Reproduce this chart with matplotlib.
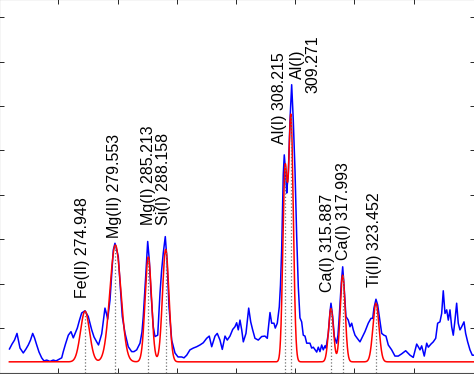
import matplotlib
matplotlib.use("Agg")
import matplotlib.pyplot as plt  # noqa: E402
import numpy as np  # noqa: E402

# measured spectrum (blue), wavelength in nm, intensity normalised
wavelength = [
    261.72, 262.15, 262.57, 262.99, 263.50, 264.05, 264.51, 264.90, 265.27, 265.64,
    265.95, 266.32, 266.71, 267.16, 267.55, 268.01, 268.56, 269.12, 269.58, 270.00,
    270.54, 270.81, 271.18, 271.66, 272.11, 272.50, 272.84, 273.18, 273.55, 273.92,
    274.48, 275.03, 275.32, 275.61, 276.00, 276.45, 276.76, 277.30, 277.60, 277.85,
    278.11, 278.31, 278.70, 278.99, 279.26, 279.54, 279.83, 280.10, 280.39, 280.78,
    281.23, 281.79, 282.36, 282.75, 283.21, 283.77, 284.10, 284.32, 284.73, 285.07,
    285.34, 285.63, 286.01, 286.30, 286.76, 287.15, 287.43, 287.70, 288.04, 288.33,
    288.67, 289.12, 289.68, 290.19, 290.81, 291.20, 291.66, 292.21, 292.77, 293.34,
    293.90, 294.46, 295.03, 295.47, 295.88, 296.44, 296.82, 297.28, 297.67, 298.13,
    298.51, 298.97, 299.43, 299.81, 300.10, 300.37, 300.66, 300.95, 301.22, 301.67,
    302.13, 302.47, 302.80, 303.19, 303.75, 304.32, 304.88, 305.27, 305.73, 306.01,
    306.40, 306.62, 306.96, 307.30, 307.50, 307.70, 307.97, 308.14, 308.31, 308.55,
    308.65, 308.82, 308.97, 309.11, 309.39, 309.66, 309.95, 310.24, 310.51, 310.79,
    311.08, 311.35, 311.64, 311.93, 312.48, 312.77, 313.04, 313.62, 313.89, 314.17,
    314.46, 314.73, 315.02, 315.19, 315.58, 315.86, 316.03, 316.32, 316.59, 316.99,
    317.21, 317.43, 317.77, 318.01, 318.28, 318.56, 318.95, 319.24, 319.53, 319.80,
    320.09, 320.47, 320.93, 321.22, 321.77, 322.33, 322.79, 323.08, 323.29, 323.63,
    323.92, 324.19, 324.60, 324.98, 325.32, 325.71, 326.28, 326.84, 327.40, 327.97,
    328.65, 329.38, 329.93, 330.51, 330.78, 331.07, 331.35, 331.79, 332.20, 332.47,
    332.92, 333.31, 333.72, 334.05, 334.44, 334.73, 335.00, 335.29, 335.58, 335.85,
    336.13, 336.42, 336.69, 336.98, 337.26, 337.53, 337.82, 338.11, 338.50, 338.78,
    339.12, 339.51, 339.90, 340.19,
]
intensity = [
    0.053, 0.064, 0.073, 0.088, 0.055, 0.044, 0.053, 0.062, 0.073, 0.088,
    0.078, 0.062, 0.046, 0.033, 0.026, 0.028, 0.025, 0.028, 0.026, 0.029,
    0.033, 0.047, 0.064, 0.084, 0.092, 0.078, 0.089, 0.100, 0.118, 0.134,
    0.139, 0.126, 0.111, 0.096, 0.080, 0.069, 0.062, 0.087, 0.118, 0.145,
    0.132, 0.120, 0.163, 0.220, 0.276, 0.291, 0.276, 0.261, 0.202, 0.126,
    0.089, 0.058, 0.047, 0.047, 0.051, 0.066, 0.091, 0.126, 0.216, 0.295,
    0.253, 0.179, 0.103, 0.081, 0.084, 0.179, 0.231, 0.269, 0.306, 0.253,
    0.148, 0.073, 0.044, 0.035, 0.035, 0.033, 0.039, 0.051, 0.055, 0.058,
    0.062, 0.067, 0.077, 0.082, 0.058, 0.082, 0.088, 0.073, 0.052, 0.082,
    0.073, 0.082, 0.097, 0.103, 0.112, 0.096, 0.118, 0.096, 0.069, 0.088,
    0.145, 0.114, 0.096, 0.077, 0.073, 0.081, 0.082, 0.077, 0.135, 0.111,
    0.111, 0.100, 0.111, 0.148, 0.197, 0.276, 0.445, 0.490, 0.461, 0.404,
    0.422, 0.445, 0.512, 0.569, 0.648, 0.569, 0.456, 0.306, 0.193, 0.123,
    0.114, 0.084, 0.082, 0.066, 0.066, 0.055, 0.057, 0.046, 0.057, 0.047,
    0.062, 0.051, 0.060, 0.055, 0.088, 0.136, 0.156, 0.126, 0.081, 0.066,
    0.084, 0.126, 0.201, 0.238, 0.186, 0.126, 0.118, 0.103, 0.111, 0.096,
    0.084, 0.077, 0.069, 0.077, 0.092, 0.111, 0.122, 0.122, 0.145, 0.165,
    0.152, 0.126, 0.088, 0.084, 0.082, 0.062, 0.051, 0.037, 0.037, 0.042,
    0.049, 0.039, 0.034, 0.064, 0.058, 0.051, 0.060, 0.037, 0.066, 0.057,
    0.064, 0.069, 0.077, 0.111, 0.114, 0.133, 0.184, 0.133, 0.141, 0.118,
    0.141, 0.103, 0.084, 0.118, 0.156, 0.111, 0.096, 0.103, 0.114, 0.088,
    0.069, 0.051, 0.039, 0.039,
]

# fitted line list (red synthetic spectrum)
line_labels = ["Fe(II) 274.948", "Mg(II) 279.553", "Mg(I) 285.213", "Si(I) 288.158",
               "Al(I) 308.215", "Al(I)\n309.271", "Ca(I) 315.887", "Ca(I) 317.993",
               "Ti(II) 323.452"]
line_center = [274.48, 279.61, 285.17, 288.11, 308.26, 309.27, 316.03, 318.01, 323.63]
line_amp = [0.114, 0.263, 0.236, 0.253, 0.419, 0.547, 0.120, 0.195, 0.132]
line_sigma = [0.76, 0.93, 0.54, 0.54, 0.37, 0.40, 0.42, 0.42, 0.51]
baseline = 0.024
model_range = (261.7, 340.4)

# label anchor (centre wavelength, bottom of text)
label_x = [274.14, 279.54, 285.20, 287.75, 307.30, 311.65, 315.52, 318.23, 323.46]
label_y = [0.168, 0.303, 0.332, 0.332, 0.515, 0.630, 0.181, 0.253, 0.193]

assert len(wavelength) == len(intensity)

plt.rcParams["font.family"] = ["Liberation Sans", "DejaVu Sans"]

fig = plt.figure(figsize=(4.74, 3.74), dpi=100)
ax = fig.add_axes([-1 / 474, 1.5 / 374, 476 / 474, 373.5 / 374])

lam = np.linspace(model_range[0], model_range[1], 3000)
model = np.full_like(lam, baseline)
for c, a, s in zip(line_center, line_amp, line_sigma):
    model += a * np.exp(-(lam - c) ** 2 / (2 * s ** 2))

ax.plot(wavelength, intensity, color="#0000ff", lw=1.1)
ax.plot(lam, model, color="#ff0000", lw=1.1)

peak_vals = np.interp(line_center, lam, model)
ax.vlines(line_center, 0, peak_vals, colors="0.45", linestyles=":", lw=0.9)

for txt, x, y in zip(line_labels, label_x, label_y):
    ax.text(x, y, txt, rotation=90, ha="center", va="bottom",
            multialignment="center", fontsize=11.5, color="black",
            linespacing=1.05)

ax.set_xlim(259.95, 340.36)
ax.set_ylim(0, 0.841)
ax.set_xticks(np.arange(270, 340, 10))
ax.set_yticks(np.arange(0.1, 0.85, 0.1))
ax.tick_params(direction="in", length=3.8, width=0.7, top=True, right=True,
               labelbottom=False, labelleft=False, color="0.15")
for sp in ax.spines.values():
    sp.set_linewidth(0.8)
    sp.set_color("0.3")

fig.savefig("out.png", dpi=100)
